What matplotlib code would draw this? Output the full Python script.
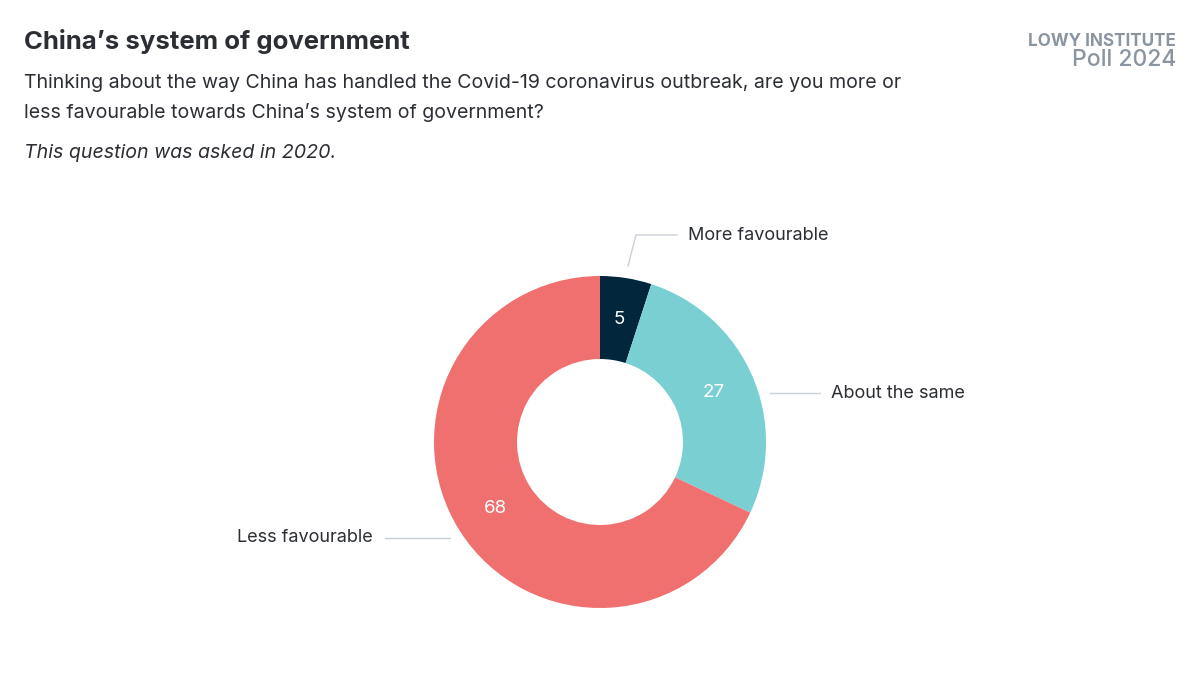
import numpy as np
import matplotlib.pyplot as plt

# Data
categories = ["More favourable", "About the same", "Less favourable"]
values = [5, 27, 68]
colors = ["#02263c", "#7acfd2", "#f07070"]

W, H = 1200, 687
plt.rcParams["font.family"] = ["Inter", "DejaVu Sans"]

fig = plt.figure(figsize=(W / 100, H / 100), dpi=100)
ax = fig.add_axes([0, 0, 1, 1])

cx, cy, r = 600, H - 442, 166
wedges, _ = ax.pie(
    values,
    colors=colors,
    startangle=90,
    counterclock=False,
    radius=r,
    center=(cx, cy),
    wedgeprops={"width": 83, "linewidth": 0},
    frame=True,
)
ax.set_xlim(0, W)
ax.set_ylim(0, H)
ax.set_aspect("equal")
ax.axis("off")

# value labels inside the ring
for v, w in zip(values, wedges):
    mid = np.deg2rad((w.theta1 + w.theta2) / 2)
    ax.text(cx + 124 * np.cos(mid), cy + 124 * np.sin(mid), str(v),
            ha="center", va="center", color="white", fontsize=13.5)

text_col = "#2b2e33"
line_kw = dict(color="#c9d1da", lw=1)
# leader lines and category labels
ax.plot([628, 636, 677], [H - 266, H - 235, H - 235], **line_kw)
ax.text(688, H - 235, categories[0], ha="left", va="center", fontsize=13, color=text_col)
ax.plot([770, 820], [H - 393, H - 393], **line_kw)
ax.text(831, H - 393, categories[1], ha="left", va="center", fontsize=13, color=text_col)
ax.plot([385, 450], [H - 538, H - 538], **line_kw)
ax.text(373, H - 537, categories[2], ha="right", va="center", fontsize=13, color=text_col)

# titles
ax.text(24, H - 41, "China\u2019s system of government", ha="left", va="center",
        fontsize=18.5, fontweight="bold", color=text_col)
ax.text(24, H - 83, "Thinking about the way China has handled the Covid-19 coronavirus outbreak, are you more or",
        ha="left", va="center", fontsize=14.1, color=text_col)
ax.text(24, H - 113, "less favourable towards China\u2019s system of government?",
        ha="left", va="center", fontsize=14.1, color=text_col)
ax.text(24, H - 153, "This question was asked in 2020.", ha="left", va="center",
        fontsize=14.1, style="italic", color=text_col)

ax.text(1176, H - 41, "LOWY INSTITUTE", ha="right", va="center",
        fontsize=12.3, fontweight="bold", color="#8a95a1")
ax.text(1176, H - 60, "Poll 2024", ha="right", va="center",
        fontsize=16.5, fontweight="medium", color="#8a95a1")

fig.savefig("out.png", dpi=100, facecolor="white")
